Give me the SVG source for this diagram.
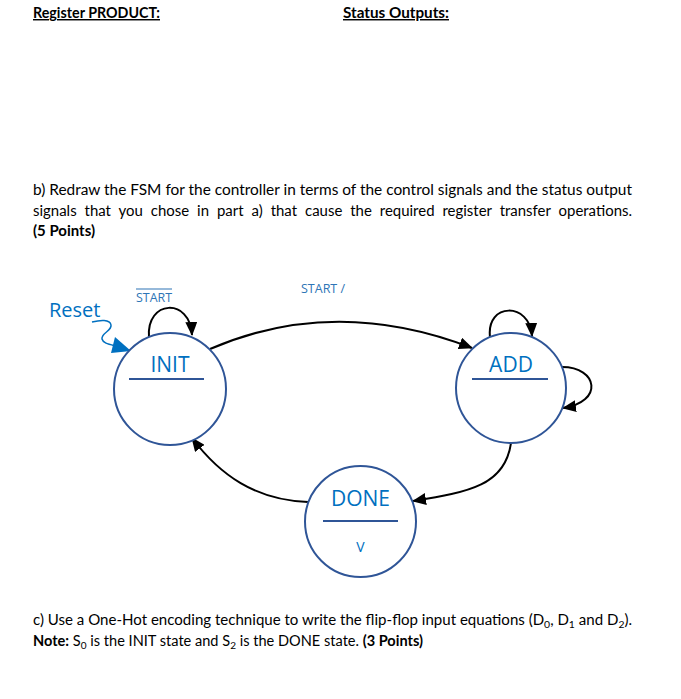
<svg xmlns="http://www.w3.org/2000/svg" width="681" height="699" viewBox="0 0 681 699">
<style>
.t{font-family:Lato,"Open Sans","Liberation Sans",sans-serif;font-size:14.5px;fill:#000}
.b{font-weight:bold}
.st{fill:#fff;stroke:#2F5597;stroke-width:2}
.sl{stroke:#2F5597;stroke-width:2}
.nm{font-family:"Open Sans","Liberation Sans",sans-serif;font-size:21px;fill:#0070C0;text-anchor:middle}
.lb{font-family:"Open Sans","Liberation Sans",sans-serif;font-size:12.5px;fill:#2E75B6}
.e{fill:none;stroke:#000;stroke-width:2}
</style>
<defs>
<marker id="ah" markerUnits="userSpaceOnUse" markerWidth="14" markerHeight="12" refX="13" refY="6" orient="auto">
<path d="M0,0 L14,6 L0,12 z" fill="#000"/>
</marker>
</defs>
<text class="t b" x="33" y="18" text-decoration="underline" textLength="127" lengthAdjust="spacingAndGlyphs">Register PRODUCT:</text>
<text class="t b" x="343" y="18" text-decoration="underline" textLength="106" lengthAdjust="spacingAndGlyphs">Status Outputs:</text>
<text class="t" x="33" y="195" textLength="599" lengthAdjust="spacingAndGlyphs">b) Redraw the FSM for the controller in terms of the control signals and the status output</text>
<text class="t" x="33" y="216" textLength="599" lengthAdjust="spacingAndGlyphs" word-spacing="4">signals that you chose in part a) that cause the required register transfer operations.</text>
<text class="t b" x="33" y="236" textLength="62" lengthAdjust="spacingAndGlyphs">(5 Points)</text>
<text class="t" x="33" y="625" textLength="599" lengthAdjust="spacingAndGlyphs">c) Use a One-Hot encoding technique to write the flip-flop input equations (D<tspan font-size="10" dy="3">0</tspan><tspan dy="-3">, D</tspan><tspan font-size="10" dy="3">1</tspan><tspan dy="-3"> and D</tspan><tspan font-size="10" dy="3">2</tspan><tspan dy="-3">).</tspan></text>
<text class="t" x="33" y="646" textLength="390" lengthAdjust="spacingAndGlyphs"><tspan class="b">Note:</tspan> S<tspan font-size="10" dy="3">0</tspan><tspan dy="-3"> is the INIT state and S</tspan><tspan font-size="10" dy="3">2</tspan><tspan dy="-3"> is the DONE state. </tspan><tspan class="b">(3 Points)</tspan></text>
<g id="connectors">
<path class="e" d="M149,337 C146,300 190,297 192,335" marker-end="url(#ah)"/>
<path class="e" d="M210,349 Q335,295 472,348" marker-end="url(#ah)"/>
<path class="e" d="M490,337 C486,302 530,302 532,336" marker-end="url(#ah)"/>
<path class="e" d="M562,367 C598,367 604,402 563,408" marker-end="url(#ah)"/>
<path class="e" d="M511,443 C505,485 470,492 413,501" marker-end="url(#ah)"/>
<path class="e" d="M308,502 C255,500 220,475 192,438" marker-end="url(#ah)"/>
<path d="M92,322 C100,320 110,319 111,325 C112,331 101,333 102,339 C103,343 108,344 116,346" fill="none" stroke="#0070C0" stroke-width="1.5"/>
<polygon points="115,337 111,353 131,351" fill="#0070C0"/>
</g>
<g id="reset">
<text x="49" y="317" font-family="'Open Sans','Liberation Sans',sans-serif" font-size="20" fill="#0070C0">Reset</text>
</g>
<g id="label-start-bar">
<text class="lb" x="136" y="302" textLength="36" lengthAdjust="spacingAndGlyphs">START</text>
<line x1="136" y1="289" x2="172" y2="289" stroke="#2E75B6" stroke-width="1.2"/>
</g>
<g id="label-start">
<text class="lb" x="301" y="293">START /</text>
</g>
<g id="INIT">
<circle class="st" cx="170" cy="389" r="56"/>
<text class="nm" x="170" y="372">INIT</text>
<line class="sl" x1="129" y1="379" x2="204" y2="379"/>
</g>
<g id="ADD">
<circle class="st" cx="511" cy="388" r="55"/>
<text class="nm" x="511" y="372">ADD</text>
<line class="sl" x1="472" y1="379" x2="548" y2="379"/>
</g>
<g id="DONE">
<circle class="st" cx="360.5" cy="521.5" r="55.5"/>
<text class="nm" x="360.5" y="506">DONE</text>
<line class="sl" x1="323" y1="521" x2="398" y2="521"/>
<text x="360.5" y="552" font-family="'Open Sans','Liberation Sans',sans-serif" font-size="14" fill="#0070C0" text-anchor="middle">V</text>
</g>
</svg>
